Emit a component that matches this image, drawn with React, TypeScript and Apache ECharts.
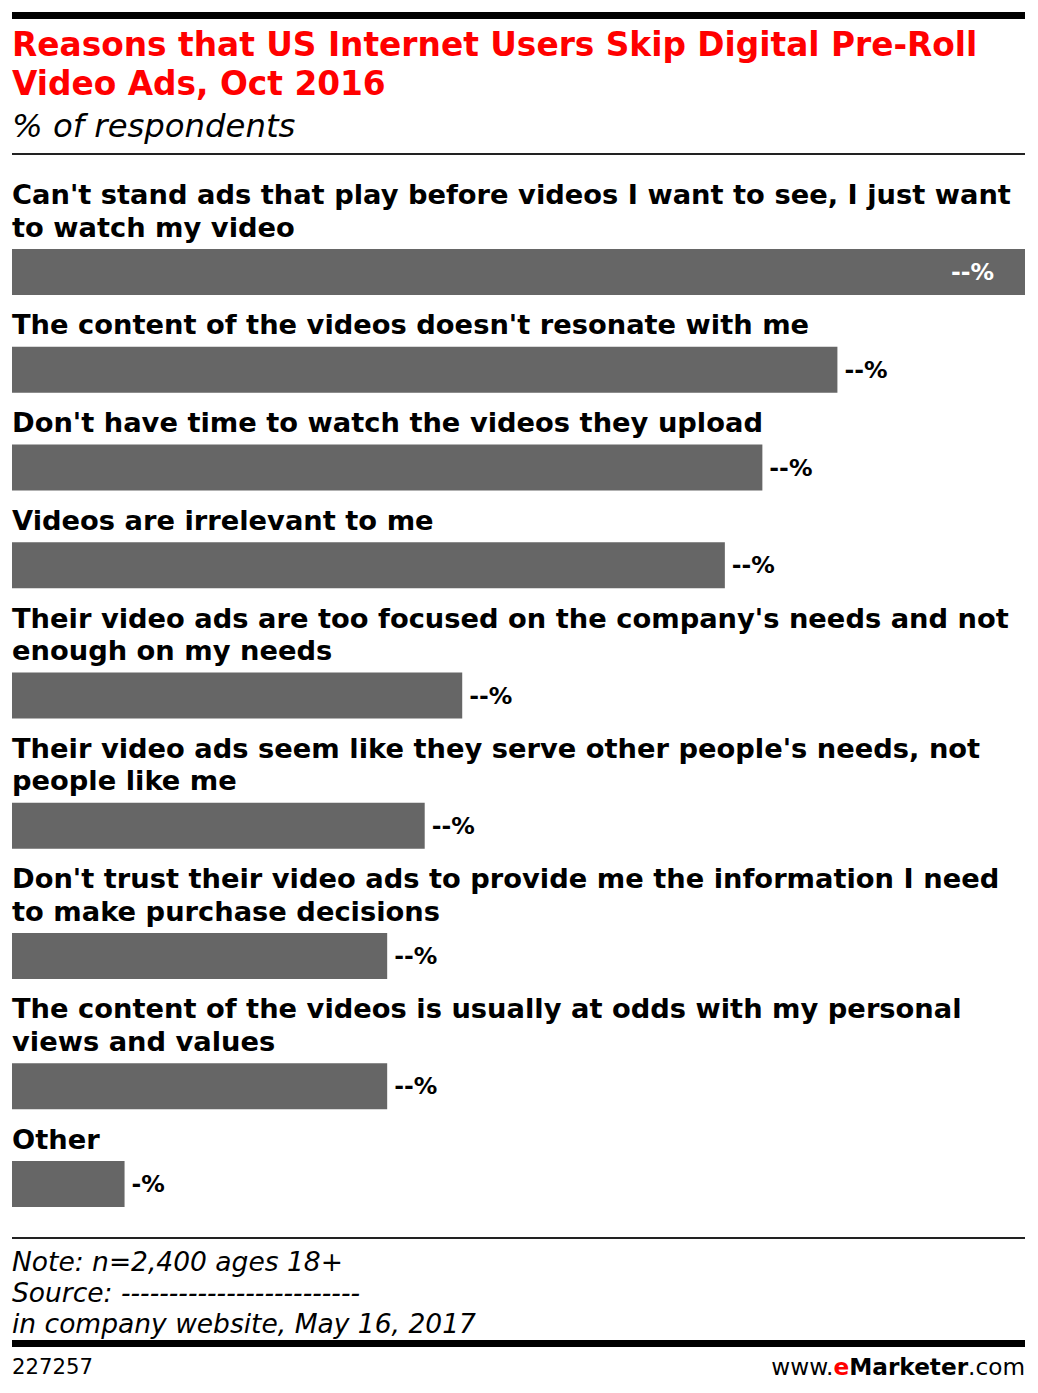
import React, { useEffect, useRef } from "react";
import * as echarts from "echarts";

const titleLines = ["Reasons that US Internet Users Skip Digital Pre-Roll", "Video Ads, Oct 2016"];
const subtitle = "% of respondents";
const categories = [
  "Can't stand ads that play before videos I want to see, I just want\nto watch my video",
  "The content of the videos doesn't resonate with me",
  "Don't have time to watch the videos they upload",
  "Videos are irrelevant to me",
  "Their video ads are too focused on the company's needs and not\nenough on my needs",
  "Their video ads seem like they serve other people's needs, not\npeople like me",
  "Don't trust their video ads to provide me the information I need\nto make purchase decisions",
  "The content of the videos is usually at odds with my personal\nviews and values",
  "Other",
];
const values = [27, 22, 20, 19, 12, 11, 10, 10, 3];
const noteLines = ["Note: n=2,400 ages 18+", "Source: -------------------------", "in company website, May 16, 2017"];
const chartId = "227257";

export default function App() {
  const ref = useRef<HTMLDivElement>(null);
  useEffect(() => {
    document.body.style.margin = "0";
    const chart = echarts.init(ref.current!, null, { renderer: "svg" });
    const L = 12;
    const W = 1013;
    const barH = 46;
    const lineH = 32.5;
    const fam = "'DejaVu Sans', Verdana, sans-serif";
    const maxV = Math.max(...values);

    const grids: any[] = [];
    const xAxes: any[] = [];
    const yAxes: any[] = [];
    const series: any[] = [];
    const graphics: any[] = [];

    let firstCenter = 194.5;
    categories.forEach((cat, i) => {
      const lines = cat.split("\n");
      lines.forEach((ln, k) => {
        graphics.push({
          type: "text",
          x: L,
          y: firstCenter + k * lineH,
          style: {
            text: ln,
            font: `bold 27.3px ${fam}`,
            fill: "#000",
            verticalAlign: "middle",
            align: "left",
          },
        });
      });
      const barTop = firstCenter + (lines.length - 1) * lineH + 22;
      grids.push({ left: L, top: barTop, width: W, height: barH });
      xAxes.push({ gridIndex: i, type: "value", min: 0, max: maxV, show: false });
      yAxes.push({ gridIndex: i, type: "category", data: [cat], show: false });
      const inside = values[i] === maxV;
      series.push({
        type: "bar",
        xAxisIndex: i,
        yAxisIndex: i,
        data: [values[i]],
        barWidth: barH,
        itemStyle: { color: "#666666" },
        label: {
          show: true,
          position: inside ? "insideRight" : "right",
          distance: inside ? 31 : 7,
          formatter: (p: any) => (p.value >= 10 ? "--%" : "-%"),
          color: inside ? "#ffffff" : "#000000",
          fontSize: 23.5,
          fontWeight: "bold",
          fontFamily: fam,
        },
      });
      firstCenter = barTop + barH + 29.75;
    });

    // header/footer
    graphics.push({ type: "rect", shape: { x: L, y: 12, width: W, height: 7 }, style: { fill: "#000" } });
    titleLines.forEach((t, k) => {
      graphics.push({
        type: "text",
        x: L,
        y: 45 + k * 39,
        style: { text: t, font: `bold 32.8px ${fam}`, fill: "#ff0000", verticalAlign: "middle" },
      });
    });
    graphics.push({
      type: "text",
      x: L,
      y: 126,
      style: { text: subtitle, font: `italic 32.3px ${fam}`, fill: "#000", verticalAlign: "middle" },
    });
    graphics.push({ type: "rect", shape: { x: L, y: 153, width: W, height: 2 }, style: { fill: "#222" } });
    graphics.push({ type: "rect", shape: { x: L, y: 1237, width: W, height: 2 }, style: { fill: "#222" } });
    noteLines.forEach((t, k) => {
      graphics.push({
        type: "text",
        x: L,
        y: 1261 + k * 31,
        style: { text: t, font: `italic 26.5px ${fam}`, fill: "#000", verticalAlign: "middle" },
      });
    });
    graphics.push({ type: "rect", shape: { x: L, y: 1340, width: W, height: 7 }, style: { fill: "#000" } });
    graphics.push({
      type: "text",
      x: L,
      y: 1366,
      style: { text: chartId, font: `21.2px ${fam}`, fill: "#000", verticalAlign: "middle" },
    });
    graphics.push({
      type: "text",
      x: L + W,
      y: 1366,
      style: {
        text: "{a|www.}{b|e}{c|Marketer}{a|.com}",
        align: "right",
        verticalAlign: "middle",
        rich: {
          a: { fontSize: 23.2, fontFamily: fam, fill: "#000" },
          b: { fontSize: 23.2, fontFamily: fam, fontWeight: "bold", fill: "#ff0000" },
          c: { fontSize: 23.2, fontFamily: fam, fontWeight: "bold", fill: "#000" },
        },
      },
    });

    chart.setOption({
      animation: false,
      grid: grids,
      xAxis: xAxes,
      yAxis: yAxes,
      series,
      graphic: graphics,
    });
    return () => chart.dispose();
  }, []);
  return <div ref={ref} style={{ width: 1038, height: 1393 }} />;
}
